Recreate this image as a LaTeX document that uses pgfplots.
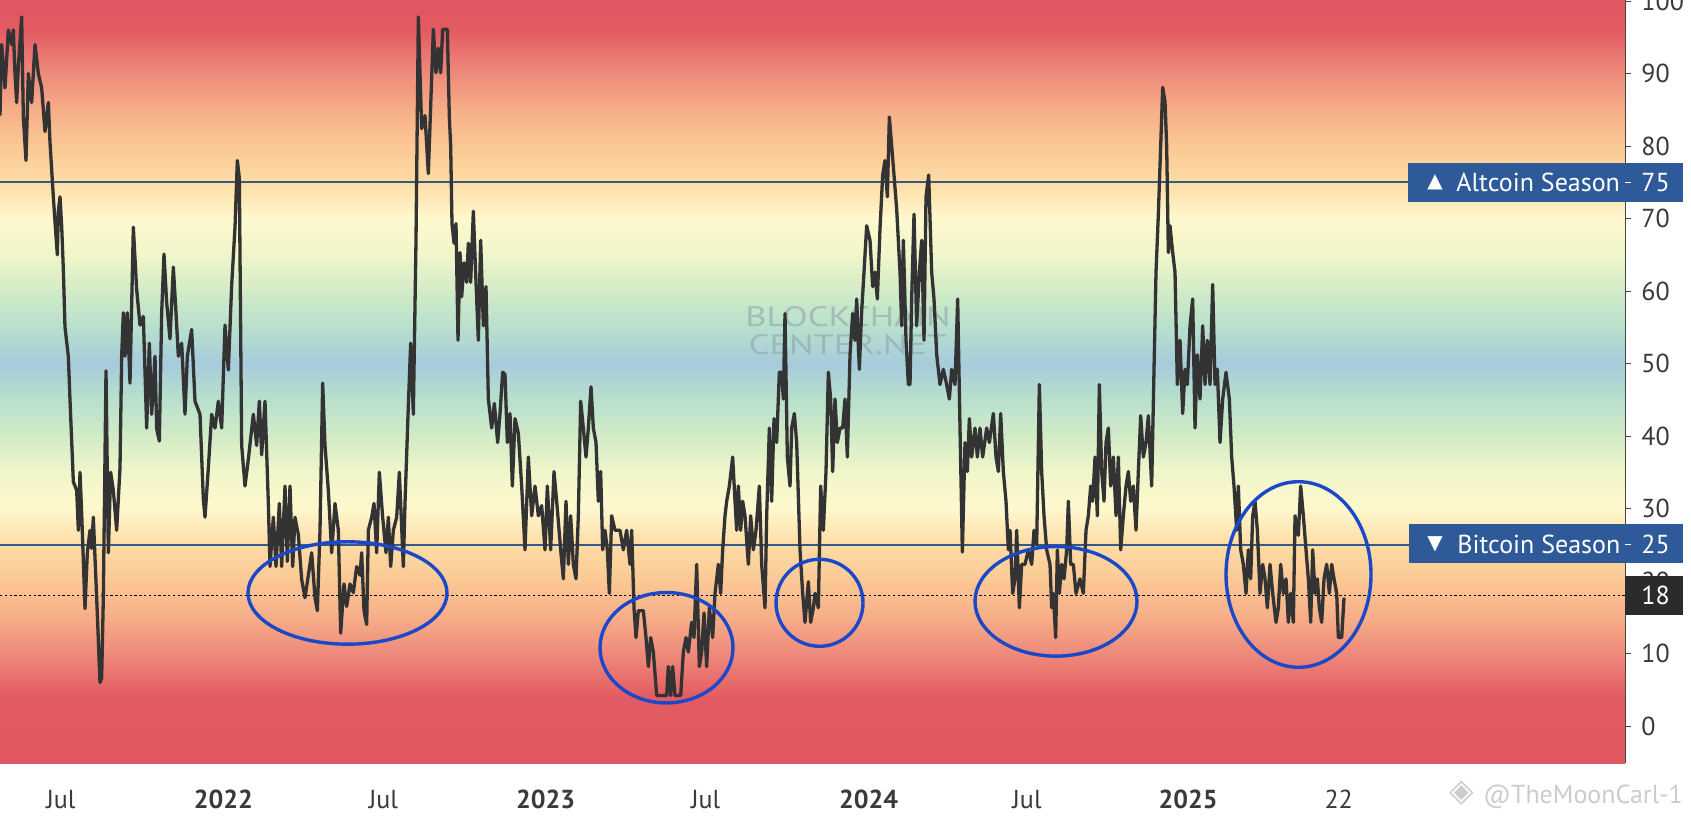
\documentclass[border=0pt]{standalone}
\usepackage{pgfplots}
\pgfplotsset{compat=1.18}
\usepackage{fontspec}
\setmainfont{PT Sans}
\newfontfamily\dejavu{DejaVu Sans}
\definecolor{cA}{HTML}{E15660}
\definecolor{cB}{HTML}{E35B62}
\definecolor{cC}{HTML}{EE8A7B}
\definecolor{cD}{HTML}{F6AE88}
\definecolor{cE}{HTML}{FBC894}
\definecolor{cF}{HTML}{FDDCA5}
\definecolor{cG}{HTML}{FFF8CE}
\definecolor{cH}{HTML}{F0F6CA}
\definecolor{cI}{HTML}{D2EBC7}
\definecolor{cJ}{HTML}{B8E0CD}
\definecolor{cK}{HTML}{A6CBDB}
\definecolor{boxblue}{HTML}{2F5A99}
\definecolor{hline}{HTML}{36598C}
\definecolor{ellblue}{HTML}{1B48C8}
\definecolor{series}{HTML}{333333}
\definecolor{axisgray}{HTML}{444444}
\definecolor{lblgray}{HTML}{3A3A3A}
\definecolor{box18}{HTML}{2B2B2B}
\definecolor{wm}{HTML}{8FA3AA}
\newcommand{\band}[4]{\fill[top color=#3, bottom color=#4, draw=none] (axis cs:0,#1) rectangle (axis cs:4875,#2);}
\begin{document}
\begin{tikzpicture}
\fill[white] (0,0) rectangle (845.5pt,-409pt);
\begin{axis}[
  at={(0,0)}, anchor=north west,
  width=812.5pt, height=381.5pt, scale only axis,
  xmin=0, xmax=4875, ymin=-5.1, ymax=100.14,
  axis on top, clip=false,
  axis y line*=right, axis x line*=bottom,
  x axis line style={draw=none},
  y axis line style={draw=axisgray, line width=0.5pt},
  xtick={183,670,1150,1637,2117,2606,3081,3564,4016},
  xticklabels={Jul,\textbf{2022},Jul,\textbf{2023},Jul,\textbf{2024},Jul,\textbf{2025},22},
  xtick style={draw=none},
  ytick={0,10,...,100},
  yticklabels={},
  ytick style={draw=axisgray, line width=0.5pt},
  tick align=outside, major tick length=2.85pt,
  xticklabel style={anchor=base, inner sep=0pt, yshift=-20pt, font=\fontsize{13}{15}\selectfont, text=lblgray},
  /pgf/number format/assume math mode=true,
]
\band{100.14}{96}{cA}{cB}
\band{96.02}{90}{cB}{cC}
\band{90.02}{85}{cC}{cD}
\band{85.02}{80}{cD}{cE}
\band{80.02}{75}{cE}{cF}
\band{75.02}{70}{cF}{cG}
\band{70.02}{65}{cG}{cH}
\band{65.02}{60}{cH}{cI}
\band{60.02}{55}{cI}{cJ}
\band{55.02}{50}{cJ}{cK}
\band{50.02}{45}{cK}{cJ}
\band{45.02}{40}{cJ}{cI}
\band{40.02}{35}{cI}{cH}
\band{35.02}{30}{cH}{cG}
\band{30.02}{25}{cG}{cF}
\band{25.02}{20}{cF}{cE}
\band{20.02}{15}{cE}{cD}
\band{15.02}{10}{cD}{cC}
\band{10.02}{4}{cC}{cB}
\band{4.02}{-5.1}{cB}{cA}
\node[text=wm, opacity=0.6, font=\fontsize{14}{15}\selectfont, xscale=1.3, align=center, inner sep=0pt] at (axis cs:2544,54.5) {BLOCKCHAIN\\[-1pt]CENTER.NET};
\draw[hline, line width=0.8pt] (axis cs:0,75) -- (axis cs:4875,75);
\draw[hline, line width=0.8pt] (axis cs:0,25) -- (axis cs:4875,25);
\draw[black, line width=0.45pt, dash pattern=on 1.2pt off 1.2pt] (axis cs:0,18) -- (axis cs:4875,18);
\addplot[series, line width=1.65pt, line join=round, mark=none] table {
0 84.2
5 94
15 88
25 96
35 94
40 96
45 90
50 86
55 91
65 97.8
70 84
78 78
85 90
95 86
105 94
115 90
125 88
135 82
145 86
150 80.5
160 73
165 69.5
172 65
175 71
180 73
185 69
190 63
195 55
205 51
210 45
220 33.7
230 32.5
235 27
240 35
245 29.4
255 16.2
262 23.9
270 27
275 24.5
280 28.8
290 17.7
300 6
305 6.6
310 17.7
318 49
325 23.9
332 35
340 32.5
350 27
360 35.6
365 51
370 57
375 51
382 57
390 47.3
400 68.8
410 60.2
420 55.3
430 56.5
440 41.1
448 52.8
455 43
465 51
470 41
478 39.3
485 57
492 65.1
500 58.4
510 53.4
520 63.3
528 57
535 51
545 52.8
555 43
562 51
575 54.7
585 44.8
600 43
610 31.3
615 28.8
625 35.6
635 43
645 41.1
655 44.8
665 41.1
675 55.3
685 49.1
695 60.8
705 68.8
712 78
718 75.6
725 38.7
735 33.1
745 36.8
760 43
770 38.7
778 44.8
785 37.4
795 44.8
805 30.7
810 22
820 28.8
828 22
838 30.7
845 22
855 33.1
862 22.7
870 33.1
878 22
885 28.8
895 26.4
905 20.2
915 17.7
925 20.8
935 23.9
945 17.7
952 15.9
960 27
968 47.3
975 38.7
985 32.5
995 23.9
1005 30.7
1015 27
1022 12.8
1032 19.6
1040 16.5
1050 19.6
1060 18.4
1070 22
1080 20.8
1085 23.9
1092 15.9
1100 14
1105 27
1115 28.8
1122 30.7
1130 23.9
1138 35
1148 28.8
1158 23.9
1165 28.8
1172 22
1180 27
1190 28.8
1198 35
1210 22
1215 30.7
1225 44.2
1232 52.8
1240 43
1248 67
1255 97.8
1265 82.4
1275 84.2
1285 76.2
1300 96.1
1308 90.1
1315 93.5
1322 90.1
1328 96.1
1342 96.1
1348 84
1352 80
1356 69.3
1362 66.6
1368 69.3
1374 53.2
1380 65.3
1385 59.2
1392 63.9
1400 61.2
1405 66.6
1412 61.2
1420 71
1428 61.2
1435 53.2
1442 67
1450 55.2
1458 60.6
1465 45.1
1475 41.1
1483 44.5
1493 39.1
1500 43.1
1508 48.8
1515 48.5
1522 39.1
1530 43.1
1537 33.1
1545 42.4
1555 40.4
1565 33.1
1575 24.3
1585 37.1
1595 29
1605 33.1
1615 29
1625 30.4
1635 24.3
1642 33.1
1652 24.3
1662 35.1
1670 31
1682 24.3
1690 20.3
1698 31
1705 22.3
1712 29
1720 22.3
1728 20.3
1735 29
1742 44.8
1750 41.1
1758 37.1
1765 41.1
1773 46.8
1780 41.1
1788 39.1
1795 31
1802 35.1
1808 24.3
1815 27
1822 24.3
1828 18.3
1835 29
1845 27
1860 27
1870 24.3
1880 27
1890 22.3
1895 27
1902 16.3
1908 12.2
1915 15.9
1930 15.9
1938 12.2
1945 8.2
1952 12.2
1960 10.2
1970 4.2
2000 4.2
2005 8.2
2012 4.2
2018 8.2
2025 4.2
2042 4.2
2050 10.2
2058 12.2
2065 10.2
2075 14.3
2082 12.2
2090 22.3
2098 8.2
2105 10.2
2112 15.6
2120 8.2
2128 16.3
2138 12.2
2145 18.3
2155 22.3
2162 18.3
2168 24.3
2175 29
2180 31
2188 33.1
2198 37.1
2205 31
2210 27
2215 33.1
2222 27
2228 31
2235 29
2245 22.3
2252 29
2260 24.3
2268 27
2278 33.1
2285 22.3
2295 16.3
2300 29
2308 41.1
2315 31
2322 42.4
2330 39.1
2338 48.8
2345 48.8
2350 45.1
2355 56.9
2362 37.1
2370 33.1
2375 41.1
2383 43.1
2390 39.1
2400 24.3
2408 18.3
2415 14.3
2425 19.9
2432 14.3
2440 16.3
2445 18.3
2455 16.3
2462 33.1
2470 27
2478 35.1
2485 48.8
2492 45.1
2498 35.1
2505 45.1
2512 39.1
2520 41.1
2528 41.1
2535 45.1
2542 37.1
2550 51.2
2558 56.9
2565 53.2
2570 58.9
2578 49.2
2585 57.2
2592 62.6
2600 69
2610 67
2618 60.6
2625 62.6
2632 58.9
2640 68.6
2648 76
2655 78
2662 73
2668 84
2675 80
2682 76
2690 71.3
2700 62.6
2705 55.2
2710 67
2718 53.2
2725 47.1
2730 47.1
2735 58.9
2742 70.6
2750 55.2
2758 62.6
2765 67
2772 53.2
2778 73
2786 76
2795 62.6
2802 58.9
2810 51.2
2820 47.1
2830 49.2
2840 47.1
2848 45.1
2855 49.2
2865 47.1
2873 58.9
2880 41.1
2887 24
2895 39.1
2902 35.1
2908 42.4
2915 37.1
2925 41.1
2932 37.1
2940 41.1
2948 37.1
2960 41.1
2968 39.1
2980 43.1
2988 37.1
2995 35.1
3002 43.1
3010 35.1
3018 31
3025 24.3
3030 27
3038 18.3
3045 20.3
3050 27
3058 16.3
3065 22.3
3075 22.3
3085 24.3
3095 22.3
3102 27
3110 25
3118 47.1
3125 35.1
3132 29
3140 24.3
3150 22.3
3155 16.3
3160 18.3
3167 12.2
3172 24.3
3178 18.3
3185 22.3
3192 20.3
3200 24.3
3205 31
3212 22.3
3220 22.3
3228 18.3
3240 20.3
3250 18.3
3258 27
3265 29
3272 33.1
3278 31
3285 37.1
3292 29
3298 47.1
3305 35.1
3312 31
3318 39.1
3325 41.1
3332 33.1
3340 37.1
3348 29
3355 37.1
3362 24.3
3370 29
3378 33.1
3385 35.1
3392 31
3400 33.1
3408 27
3415 35.1
3422 42.8
3430 37.1
3438 39.1
3445 42.8
3455 33.1
3462 49.2
3468 62.6
3475 70.6
3482 80
3488 88.1
3495 86.1
3500 80
3505 65.3
3510 69
3518 65.3
3525 62.6
3532 47.1
3540 53.2
3548 43.1
3555 49.2
3562 47.1
3570 55.2
3578 58.9
3585 41.1
3592 51.2
3600 45.1
3608 55.2
3615 47.1
3622 53.2
3630 47.1
3638 60.9
3645 47.1
3652 49.2
3660 39.1
3668 45.1
3678 48.8
3688 45.1
3695 37.1
3702 33.1
3710 27
3715 33.1
3722 24.3
3730 22.3
3738 18.3
3745 24.3
3752 20.3
3758 29
3765 31
3772 27
3780 18.3
3788 22.3
3795 20.3
3802 16.3
3810 22.3
3818 18.3
3828 14.3
3835 16.3
3842 22.3
3850 18.3
3858 20.3
3865 14.3
3872 18.3
3880 14.3
3885 29
3895 26.3
3902 33.1
3910 29
3918 24.3
3925 20.3
3932 14.3
3938 24.3
3945 18.3
3952 20.3
3958 16.3
3965 14.3
3972 20.3
3980 22.3
3988 18.3
3995 22.3
4002 20.3
4010 18.3
4015 12.2
4025 12.2
4032 17.7
};
\draw[ellblue, line width=1.7pt] (axis cs:1042.5,18.35) ellipse [x radius=49.75pt, y radius=25.6pt];
\draw[ellblue, line width=1.7pt] (axis cs:1999.5,10.8) ellipse [x radius=33.25pt, y radius=27.6pt];
\draw[ellblue, line width=1.7pt] (axis cs:2458.5,17) ellipse [x radius=21.75pt, y radius=21.75pt];
\draw[ellblue, line width=1.7pt] (axis cs:3168,17.2) ellipse [x radius=40.5pt, y radius=27.4pt];
\draw[ellblue, line width=1.7pt] (axis cs:3895.5,20.9) ellipse [x radius=36.25pt, y radius=46.4pt];
\pgfplotsinvokeforeach{0,10,20,30,40,50,60,70,80,90,100}{
  \node[anchor=west, inner sep=0pt, text=lblgray, font=\fontsize{13}{15}\selectfont] at ([xshift=8pt]axis cs:4875,#1) {#1};
}
\coordinate (R75) at (axis cs:4875,75);
\coordinate (R25) at (axis cs:4875,25);
\coordinate (R18) at (axis cs:4875,18);
\end{axis}
% value boxes on the right scale
\fill[boxblue] ([xshift=-108.5pt,yshift=9.75pt]R75) rectangle ([xshift=29pt,yshift=-9.75pt]R75);
\fill[boxblue] ([xshift=-108pt,yshift=10.5pt]R25) rectangle ([xshift=29pt,yshift=-9pt]R25);
\fill[box18] ([yshift=9.75pt]R18) rectangle ([xshift=29pt,yshift=-9.75pt]R18);
\draw[white, line width=0.5pt] (R75) -- ++(2.85pt,0);
\draw[white, line width=0.5pt] (R25) -- ++(2.85pt,0);
\foreach \c/\t in {R75/75,R25/25,R18/18}{
  \node[anchor=west, inner sep=0pt, text=white, font=\fontsize{13}{15}\selectfont] at ([xshift=8pt]\c) {\t};
}
\node[anchor=west, inner sep=0pt, text=white, font=\fontsize{10}{12}\dejavu] at ([xshift=-99pt]R75) {▲};
\node[anchor=west, inner sep=0pt, text=white, font=\fontsize{10}{12}\dejavu] at ([xshift=-99pt]R25) {▼};
\node[anchor=base west, inner sep=0pt, text=white, font=\fontsize{13}{15}\selectfont] at ([xshift=-84.5pt,yshift=-4.6pt]R75) {Altcoin Season};
\node[anchor=base west, inner sep=0pt, text=white, font=\fontsize{13}{15}\selectfont] at ([xshift=-84pt,yshift=-4.6pt]R25) {Bitcoin Season};
% watermark
\node[anchor=center, inner sep=0pt, text=gray!40, font=\fontsize{16}{18}\dejavu] at (731pt,-396.5pt) {◈};
\node[anchor=base west, inner sep=0pt, text=gray!40, font=\fontsize{13}{15}\selectfont] at (741.5pt,-401.5pt) {@TheMoonCarl-1};
\pgfresetboundingbox
\path[use as bounding box] (0,0) rectangle (845.5pt,-409pt);
\end{tikzpicture}
\end{document}
